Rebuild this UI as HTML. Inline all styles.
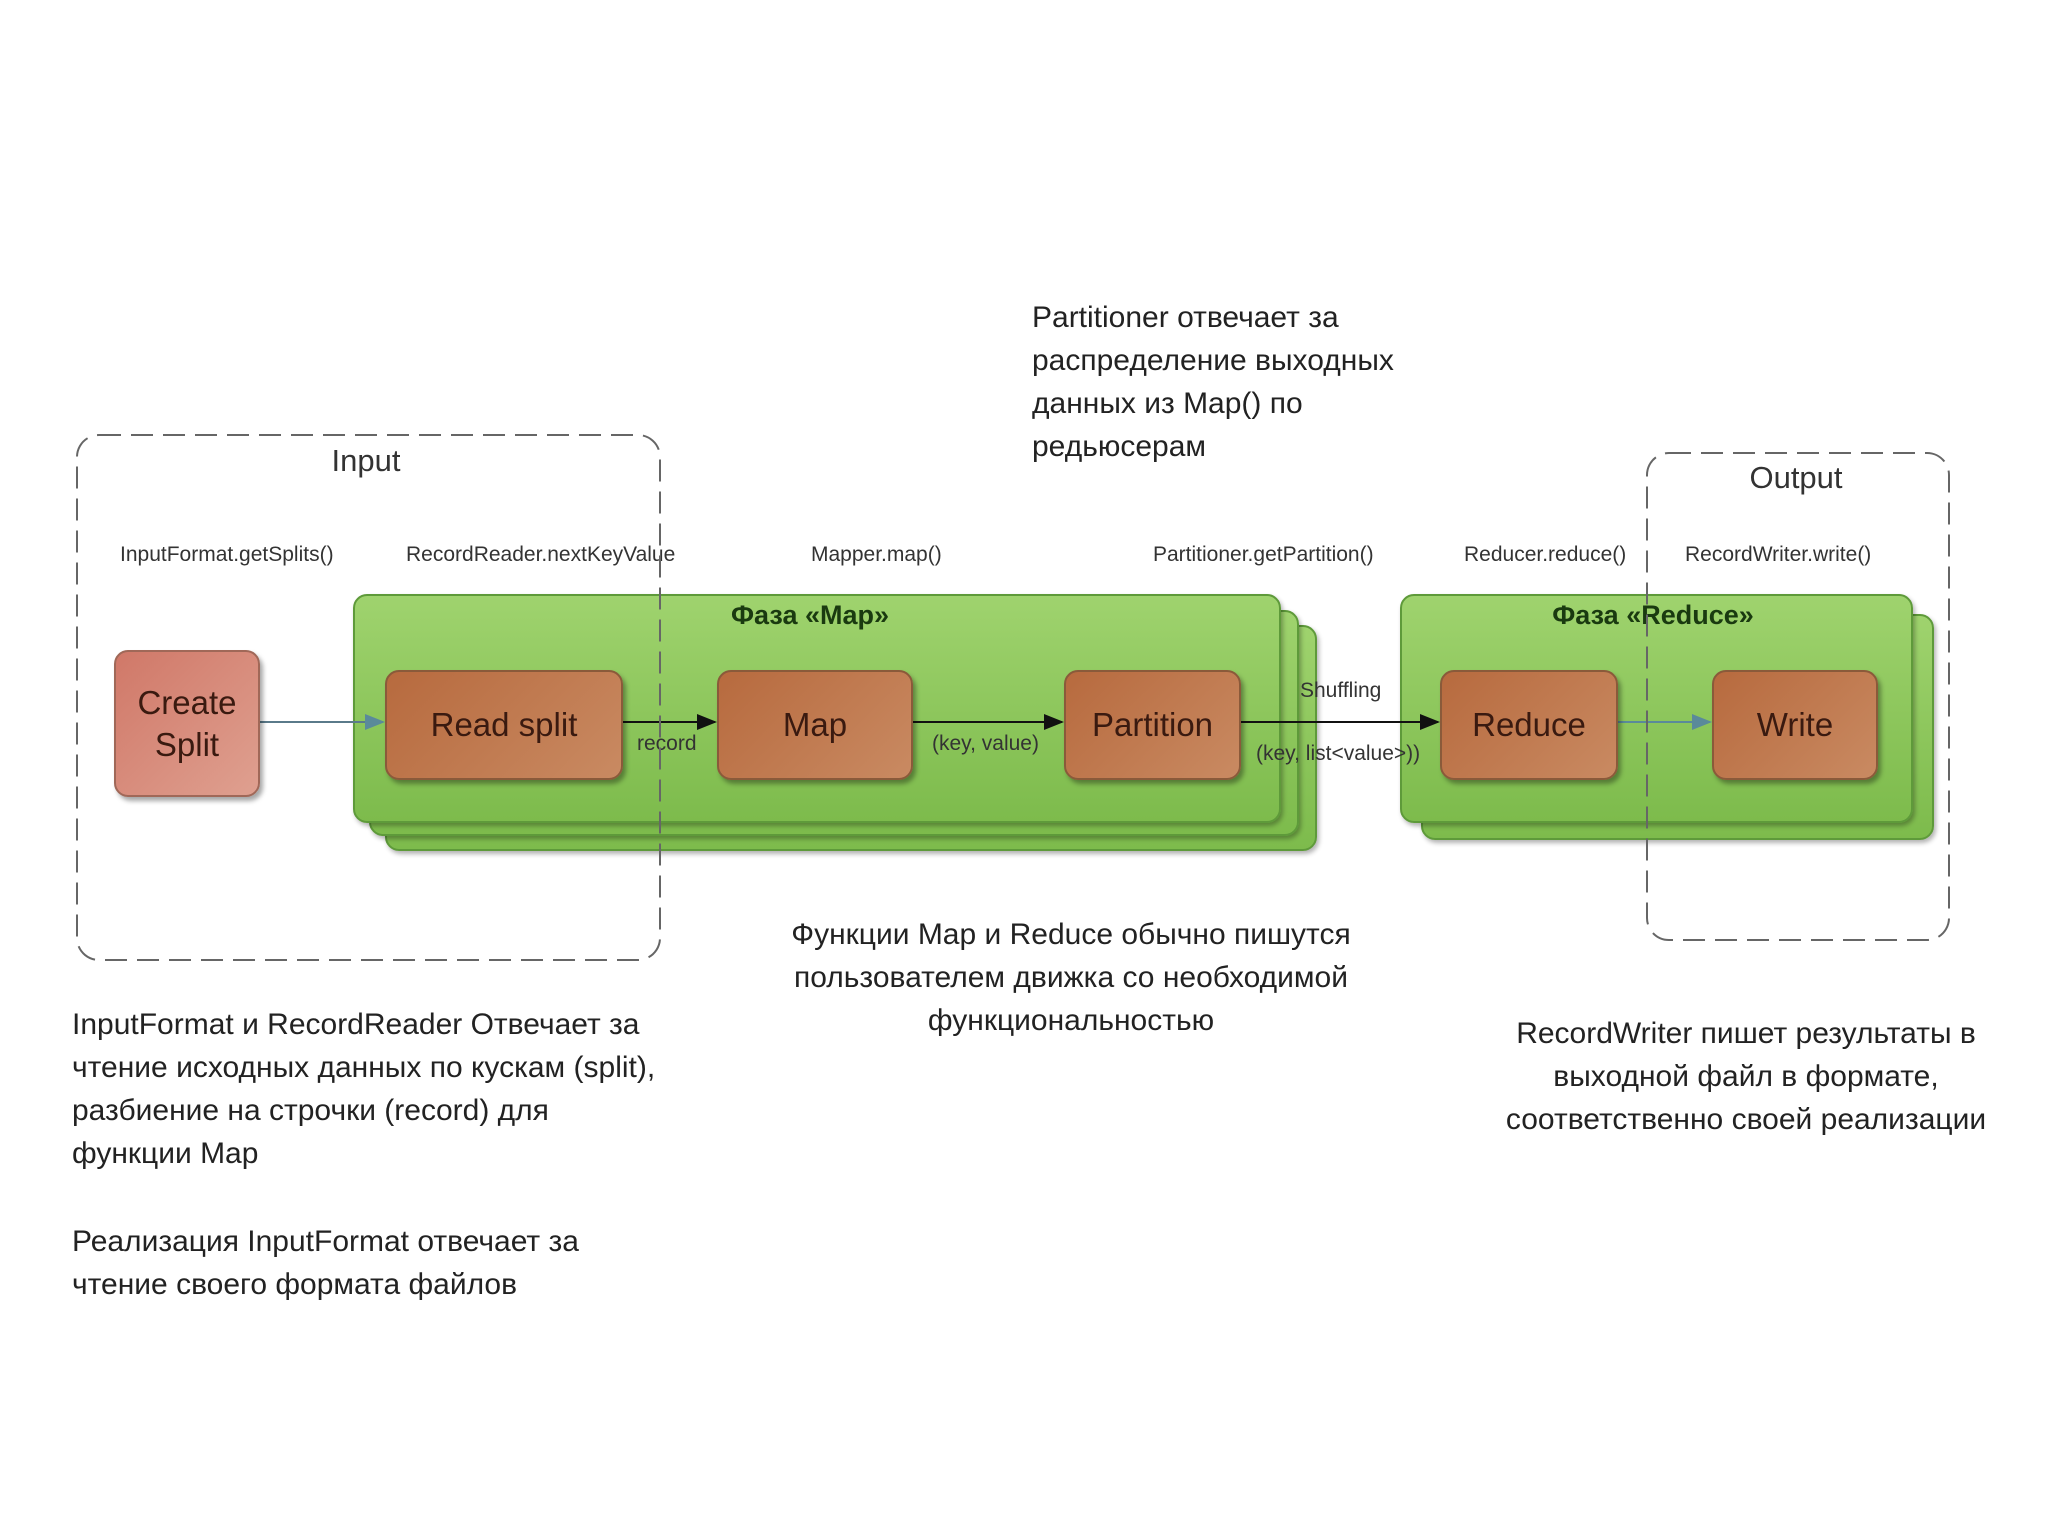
<!DOCTYPE html>
<html><head><meta charset="utf-8"><style>
body{margin:0;width:2048px;height:1536px;background:#fff;position:relative;overflow:hidden;font-family:"Liberation Sans","DejaVu Sans",sans-serif;color:#222}
.a{position:absolute}
.g{position:absolute;background:linear-gradient(#9fd36e,#7dbb4c);border:2px solid #5e9a3a;border-radius:14px;box-shadow:2px 3px 5px rgba(0,0,0,.3)}
.b{position:absolute;background:linear-gradient(135deg,#b76a3e,#c98a62);border:2px solid #8a5a3a;border-radius:14px;box-shadow:3px 4px 5px rgba(0,0,0,.35);display:flex;align-items:center;justify-content:center;text-align:center;font-size:33px;color:#3a1a10}
.l{position:absolute;font-size:21px;color:#333;white-space:nowrap}
.t{position:absolute;font-size:30px;line-height:43px;color:#222;white-space:nowrap}
</style></head><body>

<div class="g" style="left:385px;top:625px;width:928px;height:222px"></div>
<div class="g" style="left:369px;top:610px;width:926px;height:222px"></div>
<div class="g" style="left:353px;top:594px;width:924px;height:225px"></div>
<div class="g" style="left:1421px;top:614px;width:509px;height:222px"></div>
<div class="g" style="left:1400px;top:594px;width:509px;height:225px"></div>

<div class="a" style="left:560px;top:600px;width:500px;text-align:center;font-weight:bold;font-size:27px;color:#1a3a10">Фаза «Map»</div>
<div class="a" style="left:1450px;top:600px;width:406px;text-align:center;font-weight:bold;font-size:27px;color:#1a3a10">Фаза «Reduce»</div>

<div class="a" style="left:280px;top:443px;width:172px;text-align:center;font-size:31px;color:#333">Input</div>
<div class="a" style="left:1710px;top:460px;width:172px;text-align:center;font-size:31px;color:#333">Output</div>

<div class="l" style="left:120px;top:543px">InputFormat.getSplits()</div>
<div class="l" style="left:406px;top:543px">RecordReader.nextKeyValue</div>
<div class="l" style="left:811px;top:543px">Mapper.map()</div>
<div class="l" style="left:1153px;top:543px">Partitioner.getPartition()</div>
<div class="l" style="left:1464px;top:543px">Reducer.reduce()</div>
<div class="l" style="left:1685px;top:543px">RecordWriter.write()</div>

<svg class="a" style="left:0;top:0" width="2048" height="1536">
<defs><marker id="m" markerWidth="10" markerHeight="10" refX="9" refY="5" orient="auto"><path d="M0,1 L10,5 L0,9z" fill="#111"/></marker>
<marker id="m2" markerWidth="10" markerHeight="10" refX="9" refY="5" orient="auto"><path d="M0,1 L10,5 L0,9z" fill="#5a8a9a"/></marker></defs>
<line x1="260" y1="722" x2="383" y2="722" stroke="#5a7a8a" stroke-width="2" marker-end="url(#m2)"/>
<line x1="623" y1="722" x2="715" y2="722" stroke="#111" stroke-width="2" marker-end="url(#m)"/>
<line x1="913" y1="722" x2="1062" y2="722" stroke="#111" stroke-width="2" marker-end="url(#m)"/>
<line x1="1241" y1="722" x2="1438" y2="722" stroke="#111" stroke-width="2" marker-end="url(#m)"/>
<line x1="1618" y1="722" x2="1710" y2="722" stroke="#5a8a9a" stroke-width="2" marker-end="url(#m2)"/>
</svg>

<div class="b" style="left:114px;top:650px;width:142px;height:143px;background:linear-gradient(135deg,#d07868,#dfa090);border-color:#a06858;line-height:42px">Create<br>Split</div>
<div class="b" style="left:385px;top:670px;width:234px;height:106px">Read split</div>
<div class="b" style="left:717px;top:670px;width:192px;height:106px">Map</div>
<div class="b" style="left:1064px;top:670px;width:173px;height:106px">Partition</div>
<div class="b" style="left:1440px;top:670px;width:174px;height:106px">Reduce</div>
<div class="b" style="left:1712px;top:670px;width:162px;height:106px">Write</div>

<div class="l" style="left:637px;top:732px">record</div>
<div class="l" style="left:932px;top:732px">(key, value)</div>
<div class="l" style="left:1300px;top:679px">Shuffling</div>
<div class="l" style="left:1256px;top:742px">(key, list&lt;value&gt;))</div>

<svg class="a" style="left:0;top:0" width="2048" height="1536">
<rect x="77" y="435" width="583" height="525" rx="22" fill="none" stroke="#666" stroke-width="2" stroke-dasharray="22,10"/>
<rect x="1647" y="453" width="302" height="487" rx="22" fill="none" stroke="#666" stroke-width="2" stroke-dasharray="22,10"/>
</svg>

<div class="t" style="left:1032px;top:296px">Partitioner отвечает за<br>распределение выходных<br>данных из Map() по<br>редьюсерам</div>
<div class="t" style="left:72px;top:1003px">InputFormat и RecordReader Отвечает за<br>чтение исходных данных по кускам (split),<br>разбиение на строчки (record) для<br>функции Map</div>
<div class="t" style="left:72px;top:1220px">Реализация InputFormat отвечает за<br>чтение своего формата файлов</div>
<div class="t" style="left:671px;top:913px;width:800px;text-align:center">Функции Map и Reduce обычно пишутся<br>пользователем движка со необходимой<br>функциональностью</div>
<div class="t" style="left:1346px;top:1012px;width:800px;text-align:center">RecordWriter пишет результаты в<br>выходной файл в формате,<br>соответственно своей реализации</div>
</body></html>
